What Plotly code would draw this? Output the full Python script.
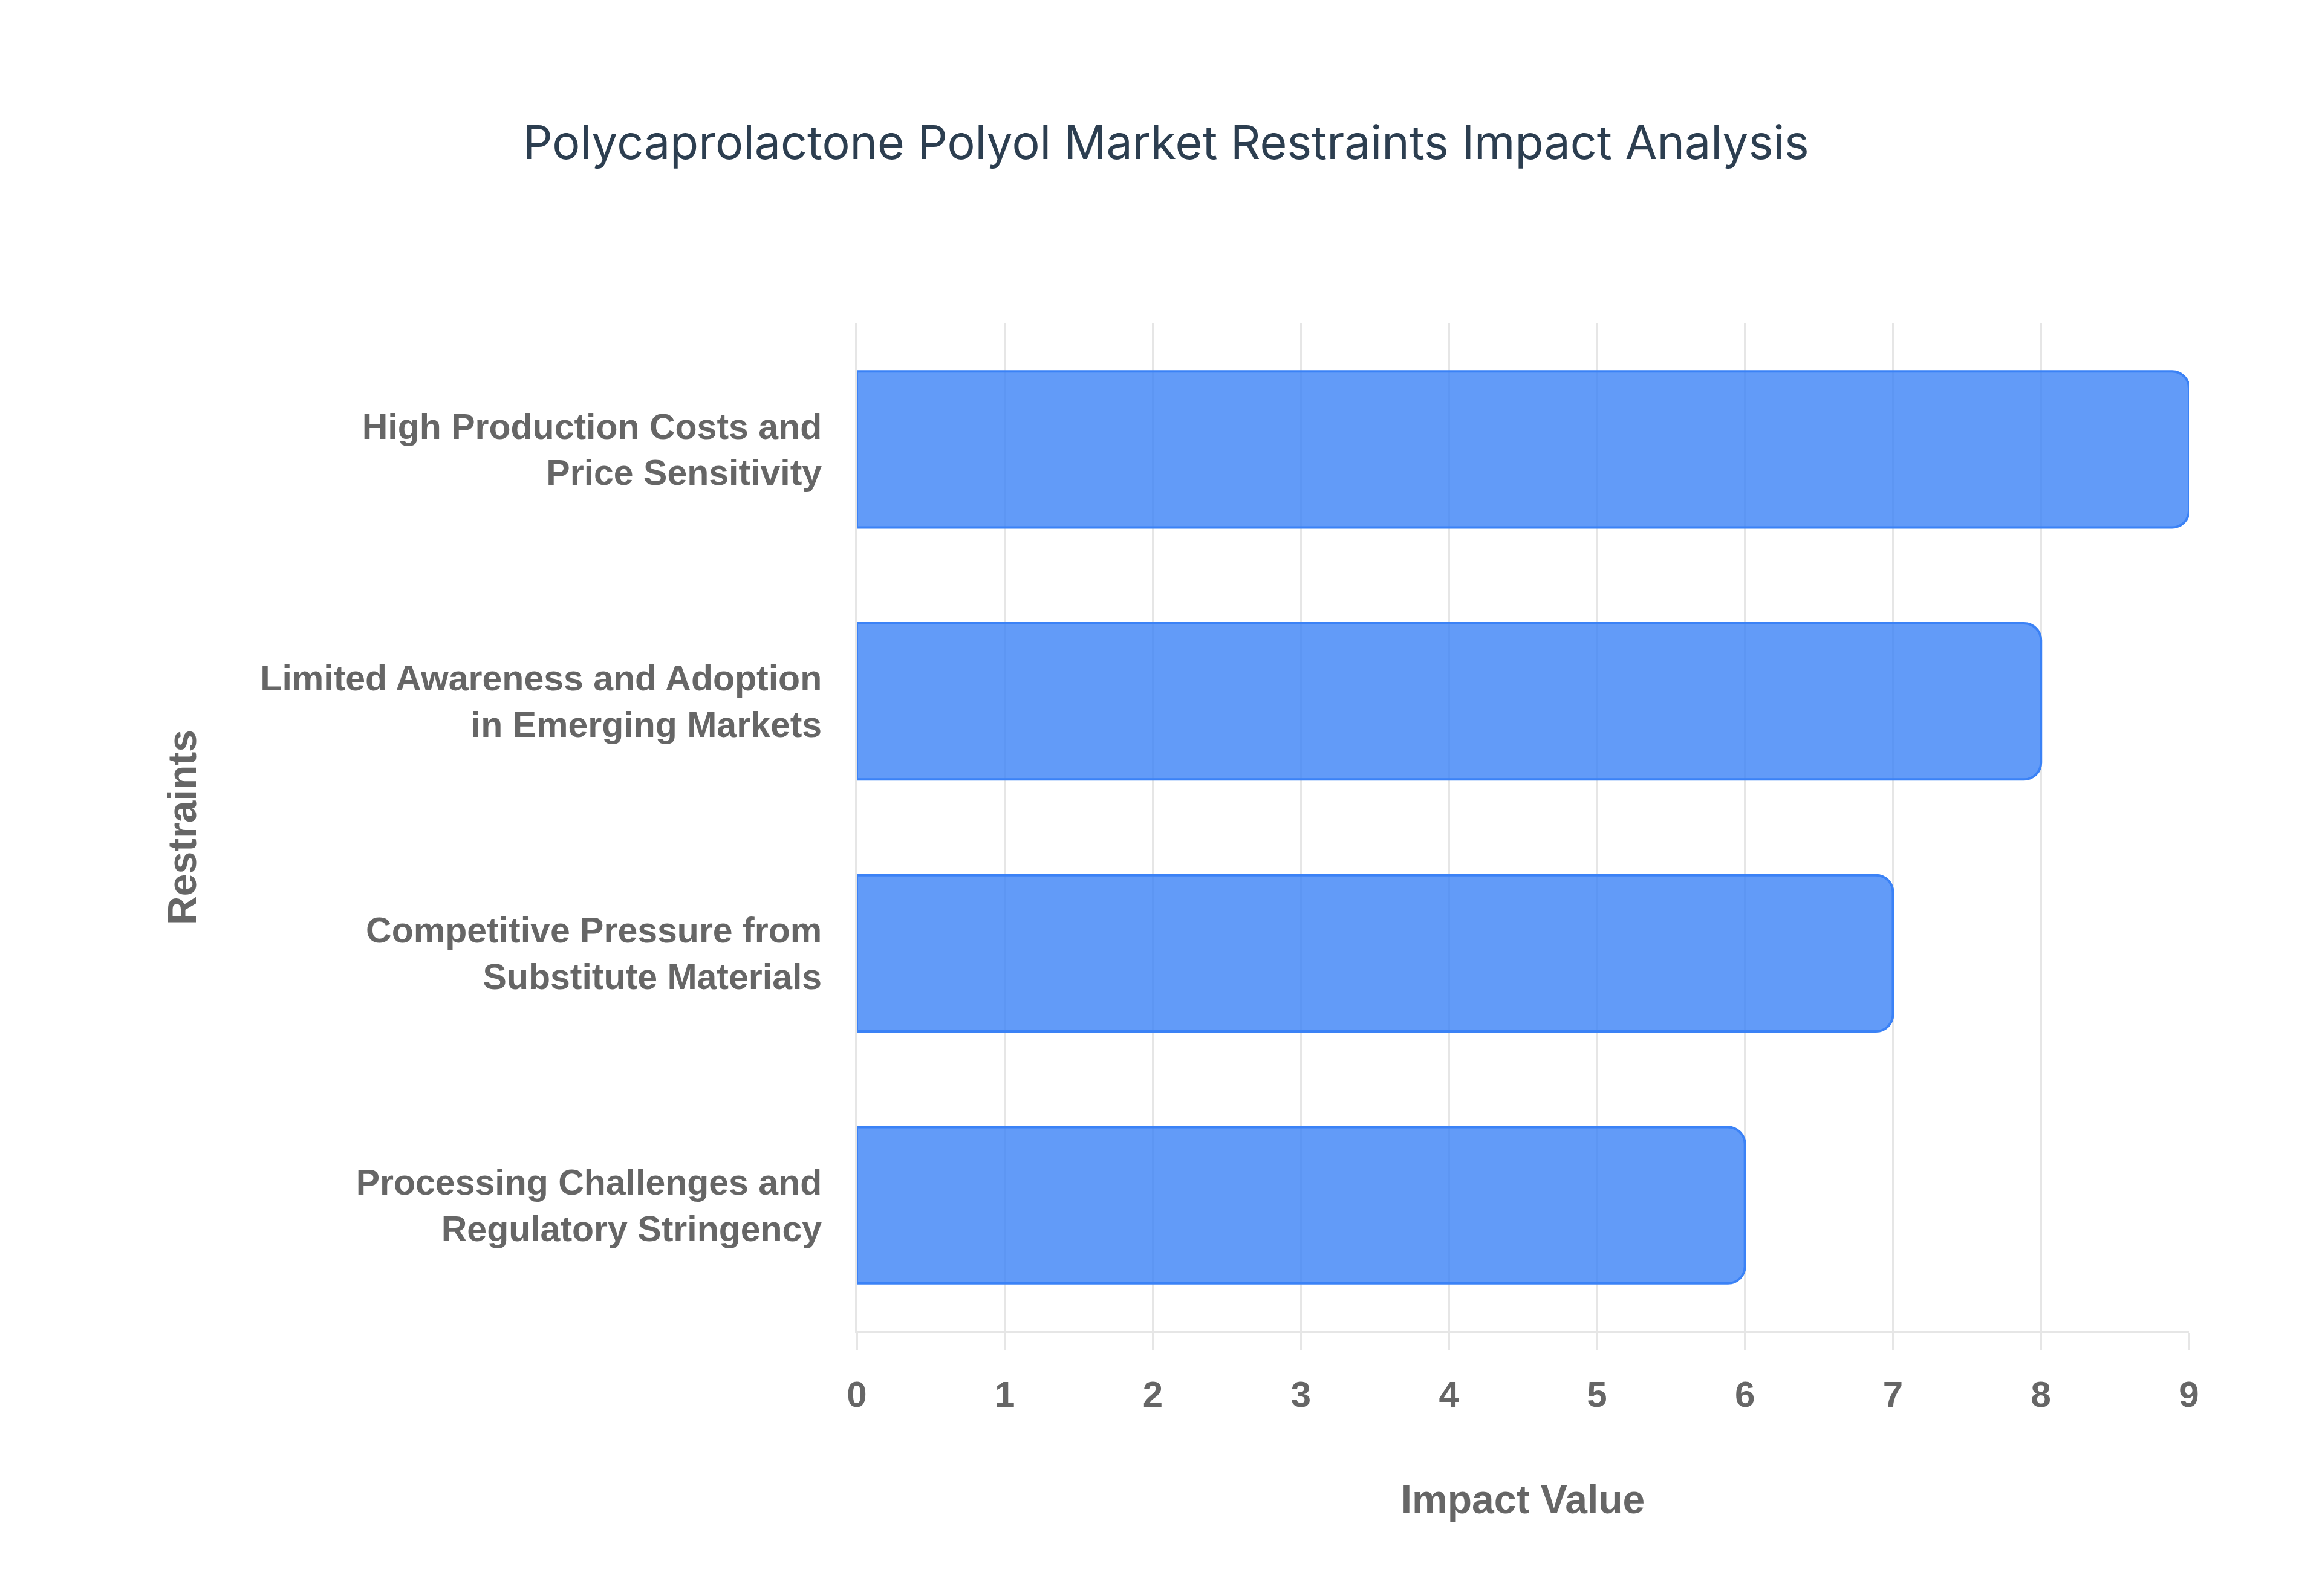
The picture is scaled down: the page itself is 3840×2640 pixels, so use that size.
import plotly.graph_objects as go

# data
restraints = [
    "High Production Costs and<br>Price Sensitivity",
    "Limited Awareness and Adoption<br>in Emerging Markets",
    "Competitive Pressure from<br>Substitute Materials",
    "Processing Challenges and<br>Regulatory Stringency",
]
impact_values = [9, 8, 7, 6]
x_ticks = [0, 1, 2, 3, 4, 5, 6, 7, 8, 9]

LABEL_FONT = "Liberation Sans, Arial, Helvetica, sans-serif"
GRID = "#e6e6e6"

fig = go.Figure()

fig.add_trace(
    go.Bar(
        x=impact_values,
        y=restraints,
        orientation="h",
        marker=dict(
            color="rgba(59,130,246,0.8)",
            line=dict(color="rgb(59,130,246)", width=4),
            cornerradius=28,
        ),
        showlegend=False,
    )
)

fig.update_layout(
    width=3840,
    height=2640,
    paper_bgcolor="white",
    plot_bgcolor="white",
    margin=dict(l=1409, r=228, t=527, b=446),
    bargap=0.38,
    title=dict(
        text="Polycaprolactone Polyol Market Restraints Impact Analysis",
        font=dict(family="Inter, sans-serif", size=77, color="#2c3e50"),
        xref="container",
        x=0.5,
        xanchor="center",
        yref="container",
        y=1 - 228 / 2640,
        yanchor="middle",
    ),
    xaxis=dict(
        range=[0, 9],
        tickvals=x_ticks,
        showgrid=True,
        gridcolor=GRID,
        gridwidth=3,
        showline=True,
        linecolor=GRID,
        linewidth=3,
        ticks="outside",
        ticklen=28,
        tickwidth=3,
        tickcolor=GRID,
        ticklabelstandoff=22,
        zeroline=False,
        tickfont=dict(family=LABEL_FONT, size=60, color="#666666", weight="bold"),
        title=dict(
            text="Impact Value",
            font=dict(family=LABEL_FONT, size=66, color="#666666", weight="bold"),
            standoff=118,
        ),
    ),
    yaxis=dict(
        autorange="reversed",
        showgrid=False,
        showline=True,
        linecolor=GRID,
        linewidth=3,
        ticks="",
        ticklabelstandoff=43,
        tickfont=dict(family=LABEL_FONT, size=59, color="#666666", weight="bold"),
        title=dict(
            text="Restraints",
            font=dict(family=LABEL_FONT, size=66, color="#666666", weight="bold"),
            standoff=85,
        ),
    ),
)

fig.write_html("out.html")
